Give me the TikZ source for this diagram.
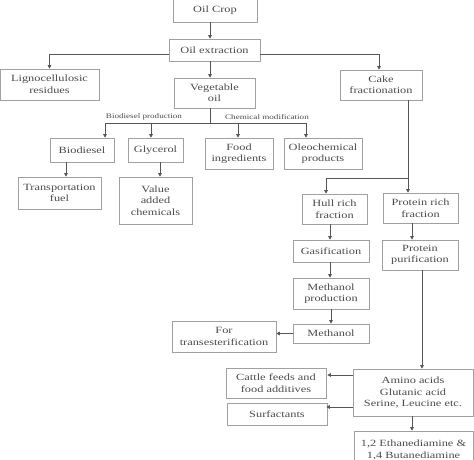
\documentclass[tikz,border=0pt]{standalone}
\usepackage{fontspec}
\setmainfont{Liberation Serif}[FakeStretch=1.3]
\usetikzlibrary{arrows.meta,calc}
\definecolor{txt}{HTML}{4A4A4A}
\definecolor{bord}{HTML}{A0A0A0}
\definecolor{lin}{HTML}{555555}
\tikzset{
  box/.style={draw=bord,line width=0.6pt,inner sep=0pt,align=center,text=txt,
    font=\fontsize{9.5}{11.5}\selectfont},
  ln/.style={draw=lin,line width=0.8pt},
  arr/.style={ln,-{Triangle[length=3.5pt,width=3.5pt]}},
  lbl/.style={text=txt,font=\fontsize{7}{8}\selectfont,inner sep=0pt}
}
\begin{document}
\begin{tikzpicture}[x=1pt,y=-1pt]
\useasboundingbox (0,0) rectangle (474,460);
% boxes
\node[box,minimum width=84pt,minimum height=23pt] (crop) at (215,10.5) {Oil Crop};
\node[box,minimum width=91pt,minimum height=22pt] (ext) at (214.5,50) {Oil extraction};
\node[box,minimum width=99pt,minimum height=31pt] (ligno) at (49.5,84.5) {Lignocellulosic\\residues};
\node[box,minimum width=81pt,minimum height=30pt] (veg) at (214.5,93) {Vegetable\\oil};
\node[box,minimum width=82pt,minimum height=30pt] (cake) at (381,85) {Cake\\fractionation};
\node[box,minimum width=64pt,minimum height=24pt] (bio) at (82,150) {Biodiesel};
\node[box,minimum width=55pt,minimum height=24pt] (gly) at (155.5,150) {Glycerol};
\node[box,minimum width=68pt,minimum height=31pt] (food) at (239,153.5) {Food\\ingredients};
\node[box,minimum width=78pt,minimum height=31pt] (oleo) at (323,153.5) {Oleochemical\\products};
\node[box,minimum width=83pt,minimum height=32pt] (fuel) at (59.5,193) {Transportation\\fuel};
\node[box,minimum width=73pt,minimum height=47pt] (value) at (155.5,200.5) {Value\\added\\chemicals};
\node[box,minimum width=65pt,minimum height=30pt] (hull) at (334.5,209) {Hull rich\\fraction};
\node[box,minimum width=75pt,minimum height=30pt] (prich) at (420.5,208) {Protein rich\\fraction};
\node[box,minimum width=76pt,minimum height=22pt] (gas) at (331,251) {Gasification};
\node[box,minimum width=76pt,minimum height=30pt] (ppur) at (420,255) {Protein\\purification};
\node[box,minimum width=76pt,minimum height=31pt] (mprod) at (331,293.5) {Methanol\\production};
\node[box,minimum width=76pt,minimum height=19pt] (meth) at (331,333.5) {Methanol};
\node[box,minimum width=104pt,minimum height=31pt] (trans) at (224,336.5) {For\\transesterification};
\node[box,minimum width=120pt,minimum height=47pt] (amino) at (413,392.5) {Amino acids\\Glutanic acid\\Serine, Leucine etc.};
\node[box,minimum width=100pt,minimum height=30pt] (cattle) at (276,383) {Cattle feeds and\\food additives};
\node[box,minimum width=100pt,minimum height=22pt] (surf) at (277,414) {Surfactants};
\node[box,minimum width=119pt,minimum height=38pt] (diam) at (413.5,450) {1,2 Ethanediamine \&\\1,4 Butanediamine};
% labels
\node[lbl] (lbio) at (144,117) {Biodiesel production};
\node[lbl] (lchem) at (267,117) {Chemical modification};
% connectors
\draw[arr] ([xshift=-5pt]crop.south) -- ([xshift=-5pt]crop.south |- ext.north);
\draw[arr] ([yshift=-4pt]ext.west) -| (ligno.north);
\draw[arr] ([yshift=-4pt]ext.east) -| ([xshift=-2pt]cake.north);
\draw[arr] ([xshift=-4.5pt]ext.south) -- ([xshift=-4.5pt]ext.south |- veg.north);
\coordinate (vb) at (210,123);
\draw[ln] ([xshift=-4.5pt]veg.south) -- (vb);
\draw[arr] (vb) -| ([xshift=23pt]bio.north);
\draw[arr] (vb) -| ([xshift=-4.5pt]gly.north);
\draw[arr] (vb) -| ([xshift=-1pt]food.north);
\draw[arr] (vb) -| ([xshift=-17pt]oleo.north);
\draw[arr] ([xshift=-16pt]bio.south) -- ([xshift=-16pt]bio.south |- fuel.north);
\draw[arr] ([xshift=4.5pt]gly.south) -- ([xshift=4.5pt]gly.south |- value.north);
\coordinate (cb) at (408,178);
\draw[arr] ([xshift=27pt]cake.south) -- ([xshift=27pt]cake.south |- prich.north);
\draw[arr] (cb) -| ([xshift=-8.5pt]hull.north);
\draw[arr] ([xshift=-4.5pt]hull.south) -- ([xshift=-4.5pt]hull.south |- gas.north);
\draw[arr] ([xshift=-1pt]gas.south) -- ([xshift=-1pt]gas.south |- mprod.north);
\draw[arr] (mprod.south) -- (meth.north);
\draw[arr] (meth.west) -- (meth.west -| trans.east);
\draw[arr] ([xshift=-8.5pt]prich.south) -- ([xshift=-8.5pt]prich.south |- ppur.north);
\draw[arr] ([xshift=2pt]ppur.south) -- ([xshift=2pt]ppur.south |- amino.north);
\draw[arr] ([yshift=-14.5pt]amino.west) -- ([yshift=-14.5pt]amino.west -| cattle.east);
\draw[arr] ([yshift=17.5pt]amino.west) -- ([yshift=17.5pt]amino.west -| surf.east);
\draw[arr] ([xshift=-1pt]amino.south) -- ([xshift=-1pt]amino.south |- diam.north);
\end{tikzpicture}
\end{document}
